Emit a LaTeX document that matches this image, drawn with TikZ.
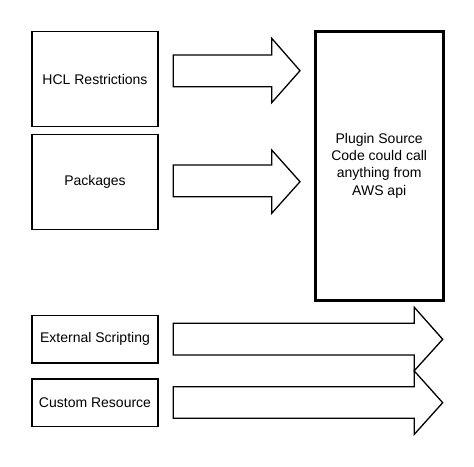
\documentclass[tikz,border=0pt]{standalone}
\usepackage{fontspec}
\setmainfont{Liberation Sans}
\begin{document}
\begin{tikzpicture}[x=1pt,y=-1pt,
  box/.style={draw=black,line width=1.3pt,fill=white,inner sep=0pt,font=\fontsize{14}{17.3}\selectfont},
  bigbox/.style={draw=black,line width=3pt,fill=white,inner sep=0pt,align=center,font=\fontsize{14}{17.3}\selectfont},
  blockarrow/.style={draw=black,line width=1.3pt,fill=white,line join=miter}]
\useasboundingbox (0,0) rectangle (474,466);
\fill[white] (0,0) rectangle (474,466);
% left boxes
\node[box,minimum width=126pt,minimum height=94.5pt] (hcl) at (95,79) {HCL Restrictions};
\node[box,minimum width=126pt,minimum height=95pt] (pkg) at (95,182) {Packages};
\node[box,minimum width=126pt,minimum height=47.5pt] (ext) at (95,339.3) {External Scripting};
\node[box,minimum width=126pt,minimum height=47.5pt] (cus) at (95,402.7) {Custom Resource};
% big box
\node[bigbox,minimum width=128pt,minimum height=269pt] (plug) at (379.2,165.5) {Plugin Source\\Code could call\\anything from\\AWS api};
% block arrows
\draw[blockarrow] (173.3,55) -- (271.7,55) -- (271.7,38.3) -- (300,70.7) -- (271.7,102.7) -- (271.7,86.7) -- (173.3,86.7) -- cycle;
\draw[blockarrow] (173.3,165) -- (271.7,165) -- (271.7,150) -- (300,181.7) -- (271.7,213.3) -- (271.7,196.7) -- (173.3,196.7) -- cycle;
\draw[blockarrow] (173.3,323.3) -- (414.3,323.3) -- (414.3,307.3) -- (442.7,339.3) -- (414.3,370.7) -- (414.3,355) -- (173.3,355) -- cycle;
\draw[blockarrow] (173.3,386.7) -- (414.3,386.7) -- (414.3,371) -- (442.7,402.7) -- (414.3,434.3) -- (414.3,418.3) -- (173.3,418.3) -- cycle;
\end{tikzpicture}
\end{document}
